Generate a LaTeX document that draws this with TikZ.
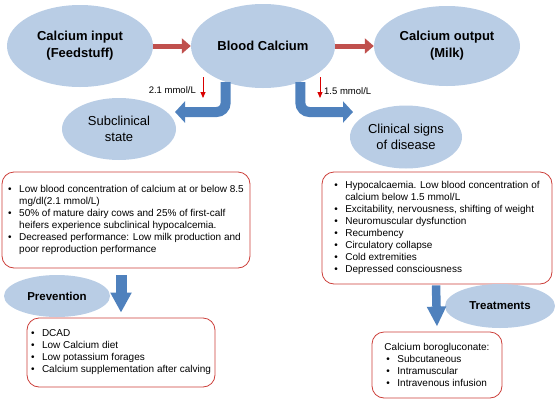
\documentclass[tikz,border=0pt]{standalone}
\usepackage{fontspec}
\setmainfont{Liberation Sans}
\usetikzlibrary{shapes.geometric,arrows.meta}

\definecolor{ellfill}{HTML}{B9CDE5}
\definecolor{arrowblue}{HTML}{4F81BD}
\definecolor{arrowred}{HTML}{C0504D}
\definecolor{boxred}{HTML}{CC3F3A}

\newcommand{\bul}{\makebox[11pt][l]{\textbullet}}
\newcommand{\ind}{\hspace*{11pt}}

\begin{document}
\begin{tikzpicture}[x=1pt,y=-1pt,
    bubble/.style={ellipse,fill=ellfill,inner sep=0pt,align=center},
    bigbold/.style={font=\fontsize{13}{17}\selectfont\bfseries},
    bignorm/.style={font=\fontsize{13}{16}\selectfont},
    smallbold/.style={font=\fontsize{11.5}{14}\selectfont\bfseries},
    infobox/.style={draw=boxred,line width=0.8pt,rounded corners=12pt,fill=white,
      align=left,inner sep=0pt,font=\fontsize{10}{12}\selectfont},
    redarrow/.style={arrowred,line width=5pt,-{Triangle[length=9pt,width=15pt]}},
    bentarrow/.style={arrowblue,line width=10pt,rounded corners=9pt,
      -{Triangle[length=10pt,width=21pt]}},
    downarrow/.style={arrowblue,line width=11pt,-{Triangle[length=20pt,width=20pt]}},
    levelarrow/.style={red!85!black,line width=0.9pt,-{Triangle[length=6pt,width=5pt]}}]
  \useasboundingbox (0,0) rectangle (555,400);

  % top row
  \node[bubble,bigbold,minimum width=146pt,minimum height=82pt] (input) at (80,46)
    {Calcium input\\(Feedstuff)};
  \node[bubble,bigbold,minimum width=144pt,minimum height=84pt] (blood) at (263,46)
    {Blood Calcium};
  \node[bubble,bigbold,minimum width=146pt,minimum height=80pt] (output) at (447,46)
    {Calcium output\\(Milk)};
  \draw[redarrow] (input) -- (blood);
  \draw[redarrow] (blood) -- (output);

  % second row
  \node[bubble,bignorm,minimum width=114pt,minimum height=62pt] (sub) at (119,129)
    {Subclinical\\state};
  \node[bubble,bignorm,minimum width=112pt,minimum height=63pt] (clin) at (406,137)
    {Clinical signs\\of disease};
  \coordinate (subtip) at (175,112);
  \coordinate (clintip) at (353,112);
  \draw[bentarrow] (blood.-136) |- (subtip);
  \draw[bentarrow] (blood.-44) |- (clintip);

  \node[anchor=east,inner sep=0pt,font=\fontsize{9.5}{11}\selectfont] (lowlab) at (196,90) {2.1 mmol/L};
  \node[anchor=west,inner sep=0pt,font=\fontsize{9.5}{11}\selectfont] (verylowlab) at (324,91) {1.5 mmol/L};
  \coordinate (lowtop) at (203,77);
  \coordinate (lowbot) at (203,98);
  \coordinate (verylowtop) at (320,77);
  \coordinate (verylowbot) at (320,98);
  \draw[levelarrow] (lowtop) -- (lowbot);
  \draw[levelarrow] (verylowtop) -- (verylowbot);

  % left column
  \node[infobox,minimum width=248pt,minimum height=96pt] (subinfo) at (126,220)
    {\bul Low blood concentration of calcium at or below 8.5\\
     \ind mg/dl(2.1 mmol/L)\\
     \bul 50\% of mature dairy cows and 25\% of first-calf\\
     \ind heifers experience subclinical hypocalcemia.\\
     \bul Decreased performance: Low milk production and\\
     \ind poor reproduction performance};
  \node[bubble,smallbold,minimum width=106pt,minimum height=42pt] (prevent) at (57,296)
    {Prevention};
  \node[infobox,minimum width=188pt,minimum height=69pt] (previnfo) at (121,352.5)
    {\bul DCAD\\
     \bul Low Calcium diet\\
     \bul Low potassium forages\\
     \bul Calcium supplementation after calving};
  \draw[downarrow] ([xshift=-5pt,yshift=-7pt]subinfo.south) -- ([yshift=5pt]previnfo.north);

  % right column
  \node[infobox,minimum width=230pt,minimum height=112pt] (clininfo) at (437,228)
    {\bul Hypocalcaemia. Low blood concentration of\\
     \ind calcium below 1.5 mmol/L\\
     \bul Excitability, nervousness, shifting of weight\\
     \bul Neuromuscular dysfunction\\
     \bul Recumbency\\
     \bul Circulatory collapse\\
     \bul Cold extremities\\
     \bul Depressed consciousness};
  \node[bubble,smallbold,minimum width=110pt,minimum height=44pt] (treat) at (500,306)
    {Treatments};
  \node[infobox,minimum width=130pt,minimum height=66pt] (treatinfo) at (437,365)
    {Calcium borogluconate:\\
     \hspace*{2pt}\bul Subcutaneous\\
     \hspace*{2pt}\bul Intramuscular\\
     \hspace*{2pt}\bul Intravenous infusion};
  \draw[downarrow,line width=8.5pt,-{Triangle[length=20pt,width=18pt]}]
    ([xshift=-1pt,yshift=-1pt]clininfo.south) -- ([yshift=5pt]treatinfo.north);
\end{tikzpicture}
\end{document}
